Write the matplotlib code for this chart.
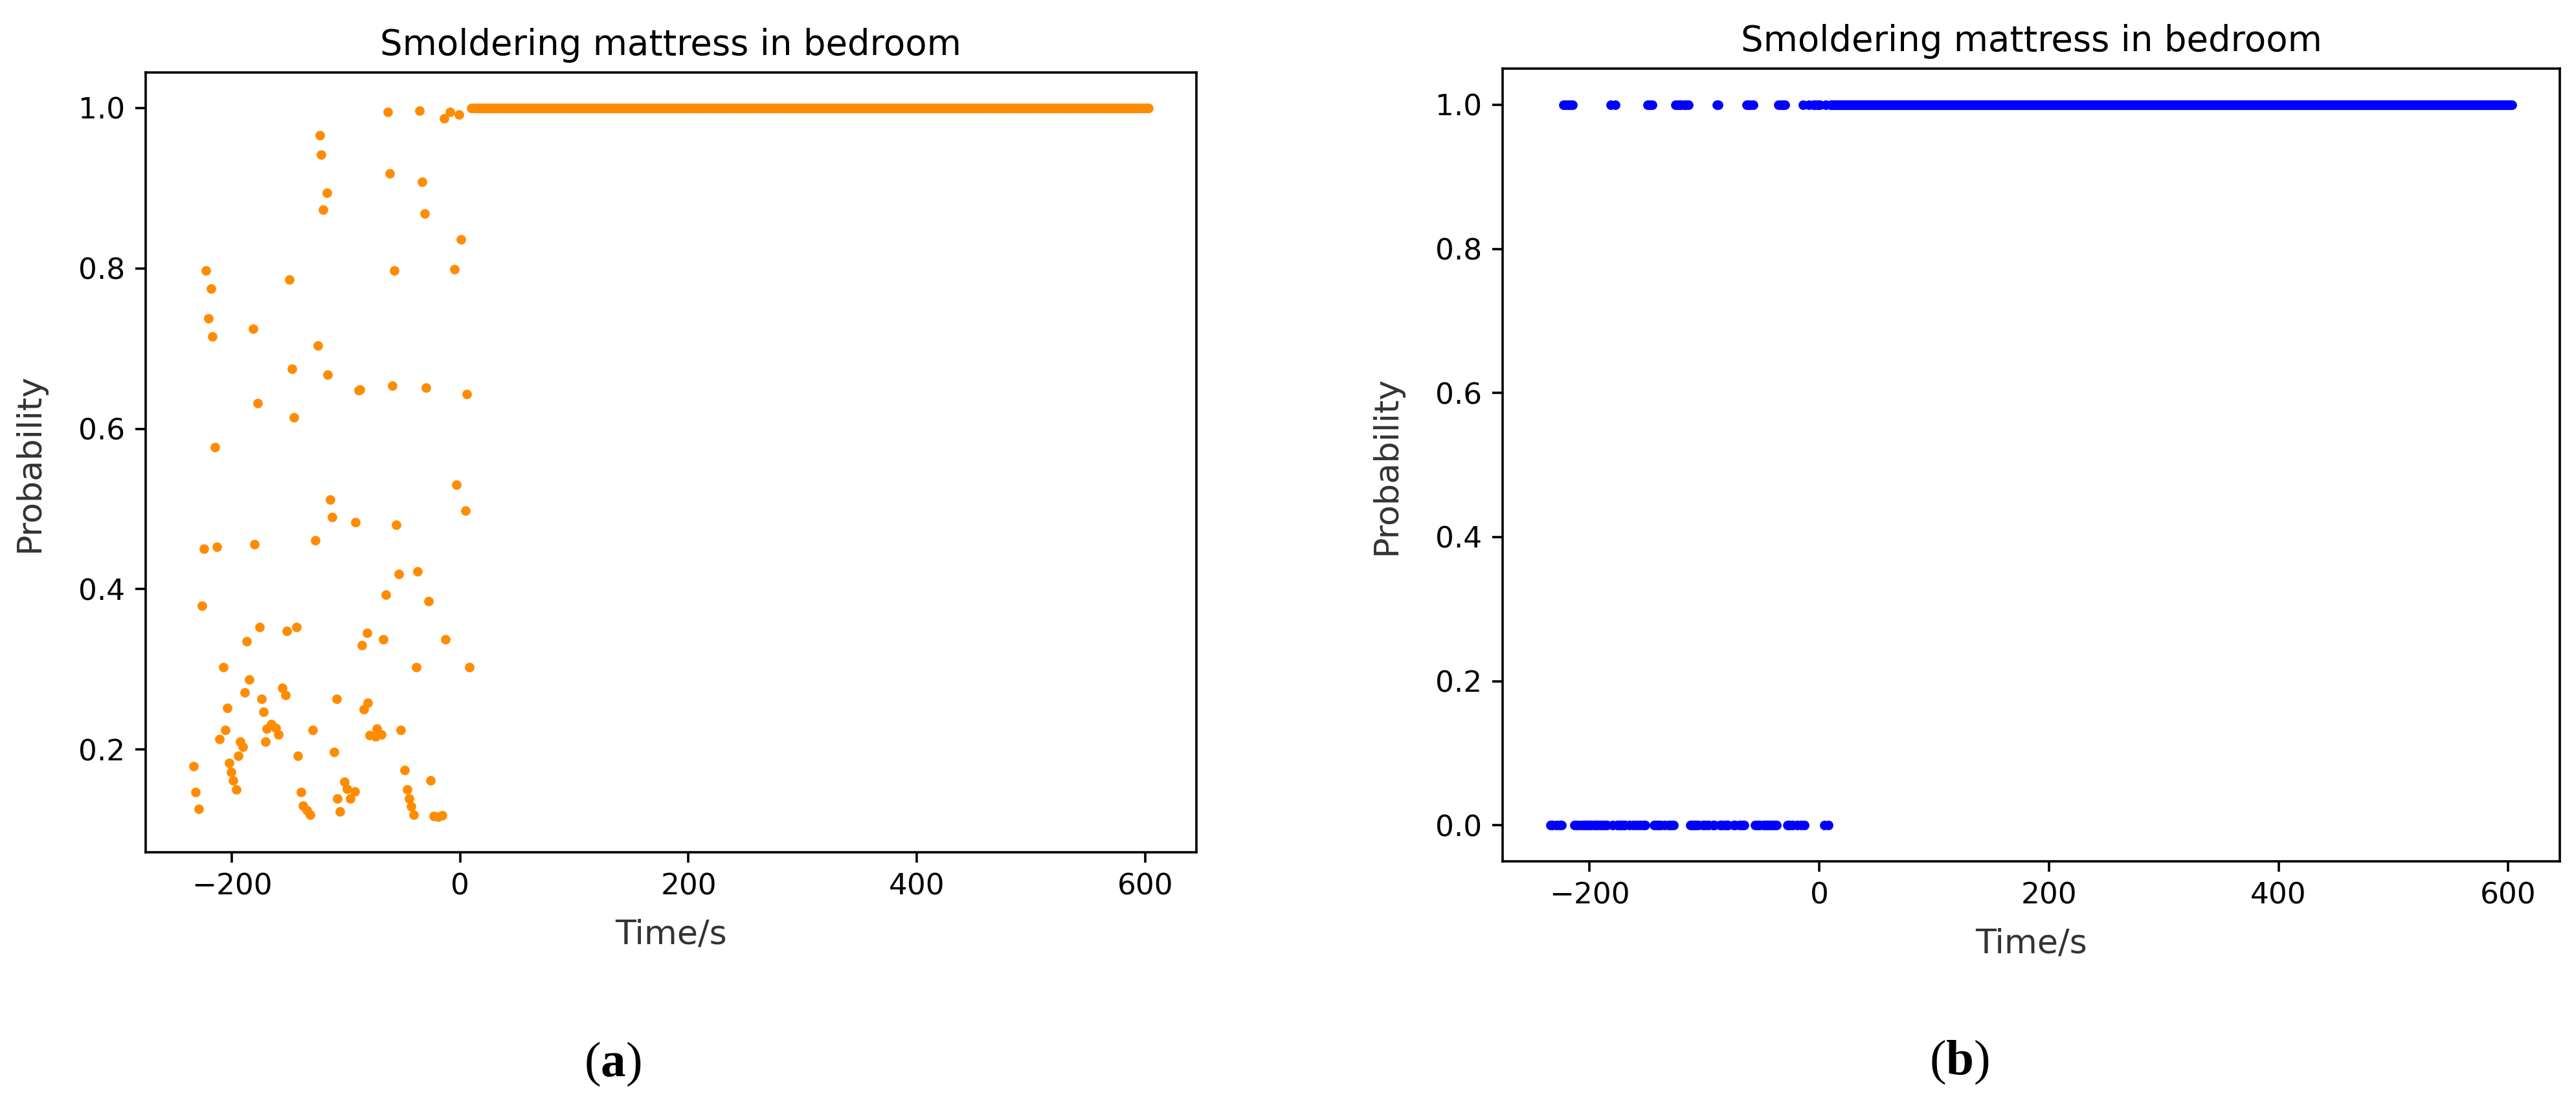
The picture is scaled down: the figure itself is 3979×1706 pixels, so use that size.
import numpy as np
import matplotlib
matplotlib.use('Agg')
import matplotlib.pyplot as plt

# probabilities for the samples before the output saturates
time_pre = [-63.3, -35.4, -14, -9, -1.3,
            -123, -122, -117, -120, -61.5, -33.3, -31.3, 0.5,
            -222.8, -57.7, -5, -149.5, -218.5, -220.8, -181.3, -217, -124.9, -147.4,
            -115.9, -89, -87.7, -59.5, -29.7, 5.9, -177.4, -145.6, -214.9,
            -3.1, -113.8, 4.4, -112, -91.5, -55.9, -224.4, -213, -180, -126.9,
            -53.6, -37.2, -65.4, -27.7, -226,
            -175.6, -151.8, -143.6, -187.2, -81.8, -86.2, -67.2, -12.8, -207.7, -38.7, 7.9,
            -185, -189, -155.9, -153.1, -174.1, -108.5, -203.8, -172.3, -80.8, -84.6,
            -169.2, -165.4, -161.5, -159, -129, -205.6, -211, -192.8, -190.3, -170.5,
            -79.2, -73.1, -69.2, -74.4, -52, -194.6, -142.3, -110.3, -233.8,
            -202.6, -200.8, -199.2, -196.2, -48.5, -25.9, -232, -229,
            -139.7, -138, -134.6, -131.5,
            -101.3, -99.2, -96.2, -92.3, -107.9, -105.4,
            -46.2, -44.9, -42.8, -40.5,
            -23.1, -19.2, -15.9]
prob_pre = [0.995, 0.997, 0.987, 0.995, 0.992,
            0.966, 0.942, 0.894, 0.873, 0.918, 0.908, 0.868, 0.836,
            0.797, 0.797, 0.799, 0.786, 0.775, 0.738, 0.725, 0.715, 0.704, 0.675,
            0.667, 0.648, 0.649, 0.654, 0.651, 0.643, 0.632, 0.614, 0.577,
            0.530, 0.512, 0.498, 0.490, 0.483, 0.480, 0.450, 0.453, 0.456, 0.461,
            0.419, 0.422, 0.393, 0.385, 0.379,
            0.353, 0.348, 0.353, 0.335, 0.345, 0.330, 0.337, 0.337, 0.303, 0.303, 0.303,
            0.287, 0.271, 0.277, 0.268, 0.263, 0.263, 0.252, 0.247, 0.258, 0.250,
            0.226, 0.232, 0.227, 0.219, 0.224, 0.224, 0.213, 0.210, 0.203, 0.210,
            0.218, 0.226, 0.219, 0.216, 0.224, 0.192, 0.192, 0.197, 0.179,
            0.183, 0.172, 0.161, 0.150, 0.174, 0.161, 0.147, 0.126,
            0.147, 0.130, 0.124, 0.119,
            0.160, 0.151, 0.139, 0.148, 0.139, 0.123,
            0.150, 0.139, 0.129, 0.119,
            0.117, 0.116, 0.118]

# from ~10 s on every sample sits at 1.0 up to the end of the test (~603 s)
plateau_start, plateau_end, sample_step = 10, 603, 1
plateau_prob = 1.0
threshold = 0.5

title = 'Smoldering mattress in bedroom'

t = np.concatenate([time_pre, np.arange(plateau_start, plateau_end + 1, sample_step)])
p = np.concatenate([prob_pre, np.full(len(t) - len(time_pre), plateau_prob)])
label = (p >= threshold).astype(int)   # panel (b): thresholded decision

plt.rcParams['mathtext.fontset'] = 'custom'
plt.rcParams['mathtext.rm'] = 'Liberation Serif'
plt.rcParams['mathtext.bf'] = 'Liberation Serif:bold'

dpi = 327
fig = plt.figure(figsize=(3979 / dpi, 1706 / dpi), dpi=dpi)
ax1 = fig.add_axes([0.0565, 0.228, 0.4079, 0.7063])
ax2 = fig.add_axes([0.5833, 0.2198, 0.4104, 0.718])

ax1.plot(t, p, '.', color='darkorange', markersize=4.5, markeredgewidth=1)
ax2.plot(t, label, '.', color='blue', markersize=4.5, markeredgewidth=1)

for ax in (ax1, ax2):
    ax.set_title(title, fontsize=12)
    ax.set_xlabel('Time/s', fontsize=11.5, color='#333333', labelpad=6)
    ax.set_ylabel('Probability', fontsize=11.5, color='#333333', labelpad=11)
    ax.tick_params(labelsize=10)

fig.text(946 / 3979, 1 - 1644 / 1706, r'($\mathbf{a}$)', family='Liberation Serif',
         fontsize=17, ha='center', va='center')
fig.text(3026 / 3979, 1 - 1641 / 1706, r'($\mathbf{b}$)', family='Liberation Serif',
         fontsize=17, ha='center', va='center')

fig.savefig('out.png', dpi=dpi)
